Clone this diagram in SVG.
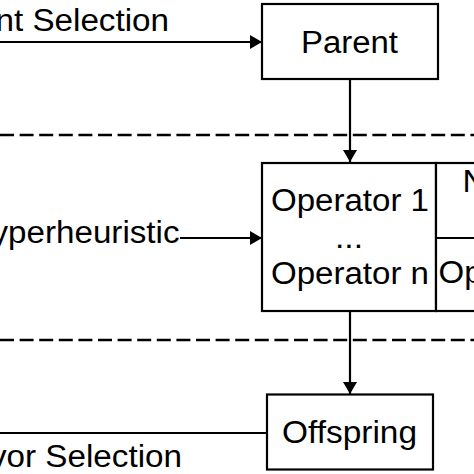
<svg xmlns="http://www.w3.org/2000/svg" width="474" height="474" viewBox="0 0 474 474">
  <style>
    .box { fill: #ffffff; stroke: #000000; stroke-width: 2.2; }
    .line { fill: none; stroke: #000000; stroke-width: 2.2; }
    .dash { fill: none; stroke: #000000; stroke-width: 2.5; stroke-dasharray: 14 5.6; }
    .lbl { font-family: "Liberation Sans", Arial, sans-serif; font-size: 31px; fill: #000000; }
  </style>
  <defs>
    <marker id="arrow" viewBox="0 0 12 14" refX="12" refY="7" markerWidth="12" markerHeight="14" markerUnits="userSpaceOnUse" orient="auto">
      <path d="M0,0 L12,7 L0,14 Z" fill="#000000"/>
    </marker>
  </defs>
  <rect width="474" height="474" fill="#ffffff"/>

  <g id="separators">
    <line class="dash" x1="0" y1="135" x2="474" y2="135"/>
    <line class="dash" x1="0" y1="340" x2="474" y2="340"/>
  </g>

  <g id="connectors">
    <line class="line" x1="-5" y1="42" x2="262" y2="42" marker-end="url(#arrow)"/>
    <line class="line" x1="350" y1="79" x2="350" y2="162" marker-end="url(#arrow)"/>
    <line class="line" x1="180" y1="238" x2="262" y2="238" marker-end="url(#arrow)"/>
    <line class="line" x1="350" y1="311" x2="350" y2="394" marker-end="url(#arrow)"/>
    <line class="line" x1="-5" y1="433" x2="267" y2="433"/>
  </g>

  <g id="label-parent-selection">
    <text class="lbl" x="-4.5" y="30.5" textLength="173.5" lengthAdjust="spacingAndGlyphs">nt Selection</text>
  </g>
  <g id="label-hyperheuristic">
    <text class="lbl" x="-8.5" y="242.5" textLength="188" lengthAdjust="spacingAndGlyphs">yperheuristic</text>
  </g>
  <g id="label-survivor-selection">
    <text class="lbl" x="-10" y="466.5" textLength="192" lengthAdjust="spacingAndGlyphs">vor Selection</text>
  </g>

  <g id="node-parent">
    <rect class="box" x="262" y="4" width="176" height="75"/>
    <text class="lbl" x="301" y="53.3" textLength="97" lengthAdjust="spacingAndGlyphs">Parent</text>
  </g>

  <g id="node-operators">
    <rect class="box" x="262" y="163" width="174" height="148"/>
    <text class="lbl" x="271" y="211" textLength="158" lengthAdjust="spacingAndGlyphs">Operator 1</text>
    <text class="lbl" x="335" y="248" textLength="28" lengthAdjust="spacingAndGlyphs">...</text>
    <text class="lbl" x="271" y="284" textLength="158" lengthAdjust="spacingAndGlyphs">Operator n</text>
  </g>

  <g id="node-right">
    <rect class="box" x="436" y="163" width="60" height="148"/>
    <line class="line" x1="436" y1="238" x2="480" y2="238"/>
    <text class="lbl" x="462.5" y="192" textLength="24" lengthAdjust="spacingAndGlyphs">N</text>
    <text class="lbl" x="438.5" y="283" textLength="44" lengthAdjust="spacingAndGlyphs">Op</text>
  </g>

  <g id="node-offspring">
    <rect class="box" x="267" y="394.5" width="166" height="75"/>
    <text class="lbl" x="282" y="443" textLength="135" lengthAdjust="spacingAndGlyphs">Offspring</text>
  </g>
</svg>
